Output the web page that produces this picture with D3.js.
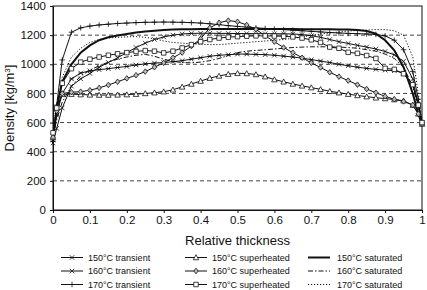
<!DOCTYPE html>
<html lang="en">
<head>
<meta charset="UTF-8">
<title>Density profiles</title>
<script src="https://d3js.org/d3.v7.min.js"></script>
<style>
  body { margin: 0; background: #fff; }
  svg text { font-family: "Liberation Sans", Arial, sans-serif; fill: #111; }
  .grid line { stroke: #444; stroke-dasharray: 4,3; }
</style>
</head>
<body>
<svg id="chart" width="427" height="290"></svg>
<script>
// relative thickness positions of the profile points
const thickness = [0, 0.01, 0.025,
  0.05, 0.075, 0.1, 0.125, 0.15, 0.175, 0.2, 0.225, 0.25,
  0.275, 0.3, 0.325, 0.35, 0.375, 0.4, 0.425, 0.45, 0.475, 0.5,
  0.525, 0.55, 0.575, 0.6, 0.625, 0.65, 0.675, 0.7, 0.725, 0.75,
  0.775, 0.8, 0.825, 0.85, 0.875, 0.9, 0.925, 0.95, 0.975,
  0.99, 1];

// density [kg/m3]
const transient150 = [480, 650, 800,
  900, 940, 955, 963, 970, 978, 985, 995, 1003,
  1008, 1012, 1018, 1025, 1035, 1045, 1055, 1062, 1066, 1070,
  1070, 1068, 1066, 1062, 1056, 1050, 1042, 1032, 1022, 1012,
  1000, 990, 980, 972, 965, 960, 956, 940, 860,
  720, 600];
const transient160 = [460, 560, 700,
  850, 900, 937, 980, 1012, 1045, 1080, 1115, 1145,
  1170, 1188, 1200, 1208, 1212, 1213, 1213, 1212, 1212, 1211,
  1211, 1210, 1210, 1210, 1209, 1208, 1204, 1196, 1185, 1170,
  1155, 1143, 1130, 1118, 1105, 1088, 1065, 1020, 900,
  720, 600];
const transient170 = [470, 720, 1030,
  1220, 1250, 1262, 1270, 1275, 1280, 1283, 1286, 1288,
  1289, 1290, 1289, 1288, 1286, 1283, 1278, 1272, 1265, 1260,
  1255, 1250, 1246, 1242, 1238, 1234, 1230, 1226, 1222, 1218,
  1215, 1212, 1210, 1208, 1205, 1195, 1165, 1100, 950,
  760, 600];
const superheated150 = [500, 700, 795,
  795, 792, 790, 789, 789, 790, 792, 795, 800,
  805, 812, 825, 845, 865, 885, 905, 920, 932, 938,
  937, 930, 915, 895, 880, 865, 852, 840, 828, 815,
  805, 795, 786, 778, 770, 765, 758, 750, 720,
  660, 590];
const superheated160 = [500, 680, 800,
  808, 812, 822, 838, 858, 880, 903, 925, 950,
  980, 1010, 1045, 1080, 1125, 1175, 1250, 1285, 1300, 1292,
  1270, 1240, 1195, 1155, 1115, 1080, 1045, 1010, 978, 945,
  915, 888, 860, 830, 805, 780, 760, 745, 720,
  660, 590];
const superheated170 = [530, 700, 870,
  970, 1015, 1035, 1050, 1062, 1072, 1080, 1088, 1094,
  1090, 1078, 1090, 1112, 1135, 1155, 1170, 1180, 1186, 1190,
  1193, 1195, 1195, 1194, 1192, 1188, 1180, 1168, 1150, 1118,
  1110, 1082, 1075, 1060, 1040, 972, 965, 935, 860,
  720, 600];
const saturated150 = [490, 700, 880,
  1000, 1080, 1130, 1165, 1185, 1198, 1208, 1218, 1225,
  1230, 1235, 1238, 1240, 1241, 1242, 1242, 1242, 1242, 1242,
  1242, 1242, 1242, 1242, 1242, 1242, 1241, 1241, 1240, 1240,
  1239, 1238, 1235, 1228, 1210, 1165, 1095, 980, 800,
  660, 590];
const saturated160 = [500, 620, 740,
  850, 920, 960, 990, 1015, 1035, 1050, 1062, 1068,
  1055, 1035, 1020, 1012, 1010, 1015, 1025, 1040, 1060, 1080,
  1090, 1095, 1100, 1105, 1110, 1115, 1118, 1120, 1120, 1120,
  1118, 1115, 1110, 1100, 1090, 1070, 1040, 980, 850,
  700, 600];
const saturated170 = [480, 700, 910,
  1050, 1110, 1150, 1170, 1180, 1185, 1188, 1190, 1185,
  1175, 1160, 1150, 1145, 1140, 1138, 1135, 1135, 1140, 1145,
  1150, 1155, 1160, 1165, 1170, 1178, 1188, 1198, 1208, 1215,
  1222, 1228, 1232, 1235, 1238, 1238, 1230, 1200, 1050,
  800, 620];

const xTicks = [0, 0.1, 0.2, 0.3, 0.4, 0.5, 0.6, 0.7, 0.8, 0.9, 1];
const yTicks = [0, 200, 400, 600, 800, 1000, 1200, 1400];

const series = [
  { name: "150°C transient",   values: transient150,   marker: "asterisk", width: 1,   dash: null },
  { name: "160°C transient",   values: transient160,   marker: "cross",    width: 1,   dash: null },
  { name: "170°C transient",   values: transient170,   marker: "plus",     width: 1,   dash: null },
  { name: "150°C superheated", values: superheated150, marker: "triangle", width: 1,   dash: null },
  { name: "160°C superheated", values: superheated160, marker: "diamond",  width: 1,   dash: null },
  { name: "170°C superheated", values: superheated170, marker: "square",   width: 1,   dash: null },
  { name: "150°C saturated",   values: saturated150,   marker: null,       width: 2,   dash: null },
  { name: "160°C saturated",   values: saturated160,   marker: null,       width: 1,   dash: "5,2,1.5,2" },
  { name: "170°C saturated",   values: saturated170,   marker: null,       width: 1,   dash: "1.2,1.8" }
];

const svg = d3.select("#chart");
const plot = { left: 53, right: 422, top: 6, bottom: 210 };
const font = '"Liberation Sans", Arial, sans-serif';

const x = d3.scaleLinear().domain([0, 1]).range([plot.left, plot.right]);
const y = d3.scaleLinear().domain([0, 1400]).range([plot.bottom, plot.top]);

// dashed grid
svg.append("g").attr("class", "grid")
  .selectAll("line")
  .data(yTicks.filter(d => d > 0 && d < 1400))
  .enter().append("line")
  .attr("x1", plot.left).attr("x2", plot.right)
  .attr("y1", d => y(d)).attr("y2", d => y(d));

// frame
svg.append("rect")
  .attr("x", plot.left).attr("y", plot.top)
  .attr("width", plot.right - plot.left).attr("height", plot.bottom - plot.top)
  .attr("fill", "none").attr("stroke", "#111").attr("stroke-width", 1);

const xAxis = svg.append("g")
  .attr("transform", `translate(0,${plot.bottom})`)
  .call(d3.axisBottom(x).tickValues(xTicks).tickSize(3).tickPadding(3).tickFormat(d3.format("")));
const yAxis = svg.append("g")
  .attr("transform", `translate(${plot.left},0)`)
  .call(d3.axisLeft(y).tickValues(yTicks).tickSize(3).tickPadding(4).tickFormat(d3.format("d")));
[xAxis, yAxis].forEach(g => {
  g.select(".domain").attr("stroke", "#111");
  g.selectAll(".tick line").attr("stroke", "#111");
  g.selectAll("text").attr("font-size", 11.5).attr("fill", "#111").attr("font-family", font);
});

// axis titles
svg.append("text")
  .attr("x", (plot.left + plot.right) / 2).attr("y", 245)
  .attr("text-anchor", "middle").attr("font-size", 13)
  .text("Relative thickness");
const yTitle = svg.append("text")
  .attr("transform", `translate(14,${(plot.top + plot.bottom) / 2}) rotate(-90)`)
  .attr("text-anchor", "middle").attr("font-size", 13);
yTitle.append("tspan").text("Density [kg/m");
yTitle.append("tspan").attr("baseline-shift", "super").attr("font-size", 8).text("3");
yTitle.append("tspan").text("]");

// marker shapes
function markerPath(type, s) {
  const h = s / 2;
  switch (type) {
    case "asterisk": return `M${-h},${-h}L${h},${h}M${-h},${h}L${h},${-h}M${-h},0L${h},0`;
    case "cross":    return `M${-h},${-h}L${h},${h}M${-h},${h}L${h},${-h}`;
    case "plus":     return `M${-h - 0.5},0L${h + 0.5},0M0,${-h - 0.5}L0,${h + 0.5}`;
    case "triangle": return `M0,${-h - 0.5}L${h + 0.5},${h}L${-h - 0.5},${h}Z`;
    case "diamond":  return `M0,${-h - 0.5}L${h},0L0,${h + 0.5}L${-h},0Z`;
    case "square":   return `M${-h},${-h}H${h}V${h}H${-h}Z`;
  }
  return "";
}
const markerFill = t => t === "diamond" ? "#bbb" : (t === "triangle" || t === "square") ? "#fff" : "none";

const line = d3.line().x(d => x(d[0])).y(d => y(d[1]));

series.forEach(s => {
  const pts = thickness.map((t, i) => [t, s.values[i]]);
  svg.append("path")
    .datum(pts)
    .attr("d", line)
    .attr("fill", "none")
    .attr("stroke", "#111")
    .attr("stroke-width", s.width)
    .attr("stroke-dasharray", s.dash);
});

series.filter(s => s.marker).forEach(s => {
  const pts = thickness.map((t, i) => [t, s.values[i]]);
  svg.append("g").selectAll("path")
    .data(pts)
    .enter().append("path")
    .attr("transform", d => `translate(${x(d[0])},${y(d[1])})`)
    .attr("d", markerPath(s.marker, 4.5))
    .attr("fill", markerFill(s.marker))
    .attr("stroke", "#111")
    .attr("stroke-width", 0.8);
});

// legend, three columns (line start x of each column)
const legendCols = [61, 185, 308];
const legendRows = [257.5, 271, 284.5];
series.forEach((s, i) => {
  const cx = legendCols[Math.floor(i / 3)];
  const cy = legendRows[i % 3];
  const g = svg.append("g").attr("transform", `translate(${cx},${cy})`);
  g.append("line")
    .attr("x1", 0).attr("x2", 22)
    .attr("y1", 0).attr("y2", 0)
    .attr("stroke", "#111")
    .attr("stroke-width", s.width)
    .attr("stroke-dasharray", s.dash);
  if (s.marker) {
    g.append("path")
      .attr("transform", "translate(11,0)")
      .attr("d", markerPath(s.marker, 4.5))
      .attr("fill", markerFill(s.marker))
      .attr("stroke", "#111").attr("stroke-width", 0.8);
  }
  g.append("text")
    .attr("x", s.marker ? 27 : 29).attr("y", 3.3)
    .attr("font-size", 9)
    .attr("font-family", font)
    .text(s.name);
});
</script>
</body>
</html>
